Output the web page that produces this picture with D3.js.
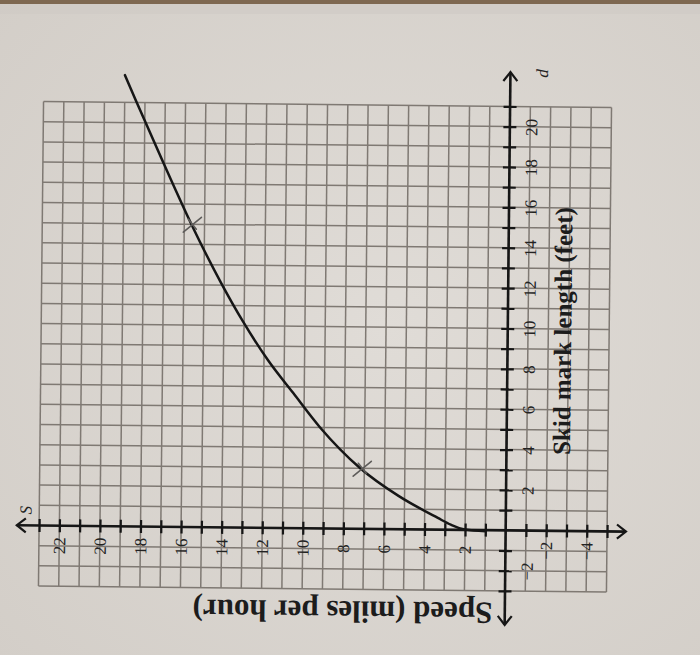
<!DOCTYPE html>
<html><head><meta charset="utf-8">
<script src="https://cdn.jsdelivr.net/npm/d3@7"></script>
<style>html,body{margin:0;padding:0;background:#dad5d0;} svg{display:block;}</style>
</head><body>
<svg id="chart" width="700" height="655"></svg>
<script>
// ---- data ----
const curveD = [-0.05, 0.02, 0.25, 0.58, 1.65, 3.0, 5.0, 6.7, 8.3, 10.2, 12.1, 15.0, 18.0, 21.1, 22.35];
const curveS = [1.0, 2.0, 2.7, 3.35, 5.3, 7.2, 9.2, 10.55, 11.8, 13.05, 14.15, 15.65, 17.05, 18.45, 19.0];
const markD = [3.0, 15.0];
const markS = [7.1, 15.6];
const dLabels = [-2, 2, 4, 6, 8, 10, 12, 14, 16, 18, 20];
const sLabels = [-4, -2, 2, 4, 6, 8, 10, 12, 14, 16, 18, 20, 22];
const dUnitTicks = [-3,-2,-1,1,2,3,4,5,6,7,8,9,10,11,12,13,14,15,16,17,18,19,20,21];
const sUnitTicks = [-5,-4,-3,-2,-1,1,2,3,4,5,6,7,8,9,10,11,12,13,14,15,16,17,18,19,20,21,22,23];
const gridD = [-3, 21];   // grid extent in d
const gridS = [-5, 23];   // grid extent in S
const axisD = [-4.69, 22.7]; // arrow tips of d axis
const axisS = [-5.93, 24.1]; // arrow tips of S axis
const xTitle = "Skid mark length (feet)";
const yTitle = "Speed (miles per hour)";

// ---- drawing ----
const svg = d3.select("#chart");
const defs = svg.append("defs");
const rg = defs.append("radialGradient").attr("id","paper").attr("cx","55%").attr("cy","50%").attr("r","75%");
rg.append("stop").attr("offset","0%").attr("stop-color","#e0dcd7");
rg.append("stop").attr("offset","100%").attr("stop-color","#d3cec8");
svg.append("rect").attr("width",700).attr("height",655).attr("fill","url(#paper)");
svg.append("rect").attr("width",700).attr("height",4).attr("fill","#7e6851");
svg.append("rect").attr("y",4).attr("width",700).attr("height",10).attr("fill","#cfcac4").attr("opacity",0.6);

// S runs right-to-left on screen, d runs bottom-to-top (chart photographed rotated)
const sScale = d3.scaleLinear().domain(gridS).range([609, 41]);
const dScale = d3.scaleLinear().domain(gridD).range([589, 104.5]);
const x0 = sScale(0), y0 = dScale(0);

const g = svg.append("g").attr("transform","rotate(0.6,325,346)");
const serif = "'Liberation Serif','Times New Roman',serif";

// grid
const grid = g.append("g").attr("stroke","#7f7973").attr("stroke-width",1.5);
grid.selectAll("line.v").data(d3.range(gridS[0], gridS[1]+1)).join("line")
  .attr("x1",d=>sScale(d)).attr("x2",d=>sScale(d))
  .attr("y1",dScale(gridD[0])).attr("y2",dScale(gridD[1]));
grid.selectAll("line.h").data(d3.range(gridD[0], gridD[1]+1)).join("line")
  .attr("y1",d=>dScale(d)).attr("y2",d=>dScale(d))
  .attr("x1",sScale(gridS[0])).attr("x2",sScale(gridS[1]));

const ink = "#161616";
// S axis (horizontal line)
g.append("line").attr("x1",sScale(axisS[1])).attr("x2",sScale(axisS[0]))
  .attr("y1",y0).attr("y2",y0).attr("stroke",ink).attr("stroke-width",2.6);
const sTickG = g.append("g").attr("transform",`translate(0,${y0-6.5})`)
  .call(d3.axisBottom(sScale).tickValues(sUnitTicks).tickSize(13).tickFormat(""));
sTickG.select(".domain").remove();
sTickG.selectAll("line").attr("stroke",ink).attr("stroke-width",2.2);
const sLabG = g.append("g").attr("transform",`translate(0,${y0})`)
  .call(d3.axisBottom(sScale).tickValues(sLabels).tickSize(0).tickFormat(d3.format("d")));
sLabG.select(".domain").remove();
sLabG.selectAll("text").attr("y",null).attr("dy",null)
  .attr("transform","translate(0,20) rotate(-90)")
  .attr("text-anchor","middle").attr("dominant-baseline","central")
  .attr("font-family",serif).attr("font-size",17).attr("fill","#222");

// d axis (vertical line)
g.append("line").attr("y1",dScale(axisD[0])).attr("y2",dScale(axisD[1]))
  .attr("x1",x0).attr("x2",x0).attr("stroke",ink).attr("stroke-width",2.6);
const dTickG = g.append("g").attr("transform",`translate(${x0-6.5},0)`)
  .call(d3.axisRight(dScale).tickValues(dUnitTicks).tickSize(13).tickFormat(""));
dTickG.select(".domain").remove();
dTickG.selectAll("line").attr("stroke",ink).attr("stroke-width",2.2);
const dLabG = g.append("g").attr("transform",`translate(${x0},0)`)
  .call(d3.axisRight(dScale).tickValues(dLabels).tickSize(0).tickFormat(d3.format("d")));
dLabG.select(".domain").remove();
dLabG.selectAll("text").attr("x",null).attr("dy",null)
  .attr("transform","translate(22,0) rotate(-90)")
  .attr("text-anchor","middle").attr("dominant-baseline","central")
  .attr("font-family",serif).attr("font-size",17).attr("fill","#222");

// arrow heads
const arrow = (x,y,ang)=>g.append("path")
  .attr("d","M9,-7 L0,0 L9,7").attr("fill","none").attr("stroke",ink)
  .attr("stroke-width",2.2).attr("stroke-linejoin","miter")
  .attr("transform",`translate(${x},${y}) rotate(${ang})`);
arrow(sScale(axisS[1]), y0, 0);
arrow(sScale(axisS[0]), y0, 180);
arrow(x0, dScale(axisD[1]), 90);
arrow(x0, dScale(axisD[0]), -90);

// axis letters
g.append("text").text("S").attr("font-family",serif).attr("font-style","italic")
  .attr("font-size",17).attr("fill","#222").attr("text-anchor","middle").attr("dominant-baseline","central")
  .attr("transform",`translate(${sScale(axisS[1])+9},${y0-15}) rotate(-90)`);
g.append("text").text("d").attr("font-family",serif).attr("font-style","italic")
  .attr("font-size",17).attr("fill","#222").attr("text-anchor","middle").attr("dominant-baseline","central")
  .attr("transform",`translate(${x0+32},${dScale(axisD[1])+1}) rotate(-90)`);

// titles
g.append("text").text(xTitle).attr("font-family",serif).attr("font-weight","bold")
  .attr("font-size",25).attr("fill","#1c1c1c").attr("text-anchor","middle").attr("dominant-baseline","central")
  .attr("transform",`translate(${x0+55},${dScale(9.9)}) rotate(-90)`);
g.append("text").text(yTitle).attr("font-family",serif).attr("font-weight","bold")
  .attr("font-size",31).attr("fill","#1c1c1c").attr("text-anchor","middle").attr("dominant-baseline","central")
  .attr("transform",`translate(${sScale(8)},${y0+83}) rotate(180)`);

// curve (ordered so screen x increases, monotone in S)
const idx = d3.range(curveD.length).reverse();
g.append("path").attr("d", d3.line().x(i=>sScale(curveS[i])).y(i=>dScale(curveD[i])).curve(d3.curveMonotoneX)(idx))
  .attr("fill","none").attr("stroke",ink).attr("stroke-width",2.5).attr("stroke-linecap","round");

// pencil marks on the curve
const mk = g.append("g").attr("stroke","#5e5c5a").attr("stroke-width",1.6).attr("stroke-linecap","round");
markD.forEach((d,i)=>{
  const cx = sScale(markS[i]), cy = dScale(d);
  mk.append("line").attr("x1",cx-9).attr("y1",cy+8).attr("x2",cx+9).attr("y2",cy-7);
  mk.append("line").attr("x1",cx-4).attr("y1",cy-5).attr("x2",cx+4).attr("y2",cy+5);
});
</script>
</body></html>
